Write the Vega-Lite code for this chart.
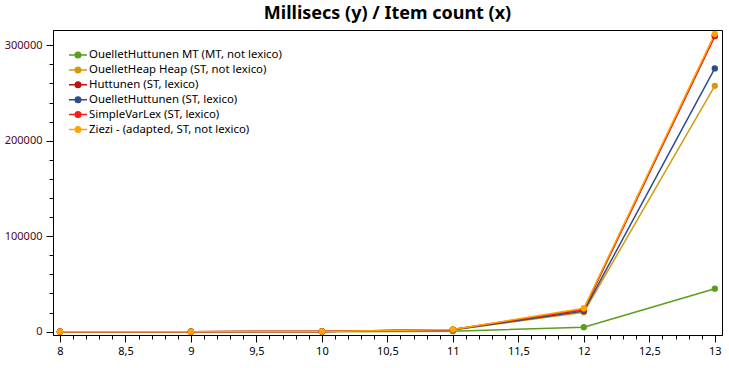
{
  "$schema": "https://vega.github.io/schema/vega-lite/v6.json",
  "autosize": "none",
  "width": 669,
  "height": 305,
  "padding": {"left": 53, "top": 30, "right": 7, "bottom": 33},
  "background": "white",
  "config": {
    "font": "Noto Sans",
    "view": {"stroke": "black", "strokeWidth": 1}
  },
  "title": {
    "text": "Millisecs (y) / Item count (x)",
    "font": "Noto Sans",
    "fontSize": 18,
    "fontWeight": "bold",
    "color": "black",
    "anchor": "middle",
    "offset": 7
  },
  "data": {
    "values": [
      {"series": "OuelletHuttunen MT (MT, not lexico)", "x": 8, "y": 0},
      {"series": "OuelletHuttunen MT (MT, not lexico)", "x": 9, "y": 0},
      {"series": "OuelletHuttunen MT (MT, not lexico)", "x": 10, "y": 0},
      {"series": "OuelletHuttunen MT (MT, not lexico)", "x": 11, "y": 500},
      {"series": "OuelletHuttunen MT (MT, not lexico)", "x": 12, "y": 4700},
      {"series": "OuelletHuttunen MT (MT, not lexico)", "x": 13, "y": 45000},
      {"series": "OuelletHeap Heap (ST, not lexico)", "x": 8, "y": 0},
      {"series": "OuelletHeap Heap (ST, not lexico)", "x": 9, "y": 0},
      {"series": "OuelletHeap Heap (ST, not lexico)", "x": 10, "y": 150},
      {"series": "OuelletHeap Heap (ST, not lexico)", "x": 11, "y": 1800},
      {"series": "OuelletHeap Heap (ST, not lexico)", "x": 12, "y": 20300},
      {"series": "OuelletHeap Heap (ST, not lexico)", "x": 13, "y": 257500},
      {"series": "Huttunen (ST, lexico)", "x": 8, "y": 0},
      {"series": "Huttunen (ST, lexico)", "x": 9, "y": 0},
      {"series": "Huttunen (ST, lexico)", "x": 10, "y": 200},
      {"series": "Huttunen (ST, lexico)", "x": 11, "y": 2200},
      {"series": "Huttunen (ST, lexico)", "x": 12, "y": 23000},
      {"series": "Huttunen (ST, lexico)", "x": 13, "y": 309500},
      {"series": "OuelletHuttunen (ST, lexico)", "x": 8, "y": 0},
      {"series": "OuelletHuttunen (ST, lexico)", "x": 9, "y": 0},
      {"series": "OuelletHuttunen (ST, lexico)", "x": 10, "y": 150},
      {"series": "OuelletHuttunen (ST, lexico)", "x": 11, "y": 1900},
      {"series": "OuelletHuttunen (ST, lexico)", "x": 12, "y": 21500},
      {"series": "OuelletHuttunen (ST, lexico)", "x": 13, "y": 275800},
      {"series": "SimpleVarLex (ST, lexico)", "x": 8, "y": 0},
      {"series": "SimpleVarLex (ST, lexico)", "x": 9, "y": 0},
      {"series": "SimpleVarLex (ST, lexico)", "x": 10, "y": 200},
      {"series": "SimpleVarLex (ST, lexico)", "x": 11, "y": 2200},
      {"series": "SimpleVarLex (ST, lexico)", "x": 12, "y": 23500},
      {"series": "SimpleVarLex (ST, lexico)", "x": 13, "y": 310500},
      {"series": "Ziezi - (adapted, ST, not lexico)", "x": 8, "y": 0},
      {"series": "Ziezi - (adapted, ST, not lexico)", "x": 9, "y": 0},
      {"series": "Ziezi - (adapted, ST, not lexico)", "x": 10, "y": 200},
      {"series": "Ziezi - (adapted, ST, not lexico)", "x": 11, "y": 2300},
      {"series": "Ziezi - (adapted, ST, not lexico)", "x": 12, "y": 24500},
      {"series": "Ziezi - (adapted, ST, not lexico)", "x": 13, "y": 312000}
    ]
  },
  "encoding": {
    "x": {
      "field": "x", "type": "quantitative",
      "scale": {"domain": [7.947, 13.055], "nice": false, "zero": false}
    },
    "y": {
      "field": "y", "type": "quantitative",
      "scale": {"domain": [-3500, 316000], "nice": false, "zero": false}
    },
    "color": {
      "field": "series", "type": "nominal",
      "scale": {
        "domain": ["OuelletHuttunen MT (MT, not lexico)", "OuelletHeap Heap (ST, not lexico)", "Huttunen (ST, lexico)", "OuelletHuttunen (ST, lexico)", "SimpleVarLex (ST, lexico)", "Ziezi - (adapted, ST, not lexico)"],
        "range": ["#5a9e1c", "#d49a10", "#c01010", "#2d4c8e", "#ff1a1a", "#ffa500"]
      },
      "legend": {
        "title": null,
        "orient": "none",
        "legendX": 19,
        "legendY": 19,
        "padding": 0,
        "labelFont": "Noto Sans",
        "labelFontSize": 11.4,
        "labelColor": "black",
        "labelLimit": 400,
        "labelOffset": 5,
        "rowPadding": 2.9,
        "symbolSize": 100,
        "symbolStrokeWidth": 1.5,
        "symbolType": "M-1.8,0L1.8,0M-0.55,0A0.55,0.55,0,1,1,0.55,0A0.55,0.55,0,1,1,-0.55,0Z",
        "encode": {
          "symbols": {
            "update": {
              "stroke": {"scale": "color", "field": "value"},
              "fill": {"scale": "color", "field": "value"},
              "strokeWidth": {"value": 1.5},
              "opacity": {"value": 1}
            }
          }
        }
      }
    }
  },
  "layer": [
    {
      "mark": {"type": "line", "strokeWidth": 1.5},
      "encoding": {
        "x": {
          "field": "x", "type": "quantitative",
          "axis": {
            "title": null,
            "orient": "bottom",
            "values": [8, 8.5, 9, 9.5, 10, 10.5, 11, 11.5, 12, 12.5, 13],
            "labelExpr": "replace(format(datum.value, '.1~f'), '.', ',')",
            "tickSize": 7,
            "tickColor": "black",
            "domainColor": "black",
            "labelColor": "black",
            "labelFont": "Noto Sans",
            "labelFontSize": 11,
            "labelPadding": 3,
            "grid": false
          }
        },
        "y": {
          "field": "y", "type": "quantitative",
          "axis": {
            "title": null,
            "orient": "left",
            "values": [0, 100000, 200000, 300000],
            "format": "d",
            "tickSize": 7,
            "tickColor": "black",
            "domainColor": "black",
            "labelColor": "#4a0a24",
            "labelFont": "Noto Sans",
            "labelFontSize": 11,
            "labelPadding": 4,
            "grid": false
          }
        }
      }
    },
    {
      "mark": {"type": "point", "filled": true, "size": 40, "opacity": 1},
      "encoding": {
        "x": {
          "field": "x", "type": "quantitative",
          "axis": {
            "title": null,
            "orient": "bottom",
            "values": [8.1, 8.2, 8.3, 8.4, 8.6, 8.7, 8.8, 8.9, 9.1, 9.2, 9.3, 9.4, 9.6, 9.7, 9.8, 9.9, 10.1, 10.2, 10.3, 10.4, 10.6, 10.7, 10.8, 10.9, 11.1, 11.2, 11.3, 11.4, 11.6, 11.7, 11.8, 11.9, 12.1, 12.2, 12.3, 12.4, 12.6, 12.7, 12.8, 12.9],
            "labels": false,
            "domain": false,
            "tickSize": 4,
            "tickColor": "black",
            "grid": false
          }
        },
        "y": {
          "field": "y", "type": "quantitative",
          "axis": {
            "title": null,
            "orient": "left",
            "values": [20000, 40000, 60000, 80000, 120000, 140000, 160000, 180000, 220000, 240000, 260000, 280000],
            "labels": false,
            "domain": false,
            "tickSize": 4,
            "tickColor": "black",
            "grid": false
          }
        }
      }
    }
  ],
  "resolve": {"axis": {"x": "independent", "y": "independent"}}
}
